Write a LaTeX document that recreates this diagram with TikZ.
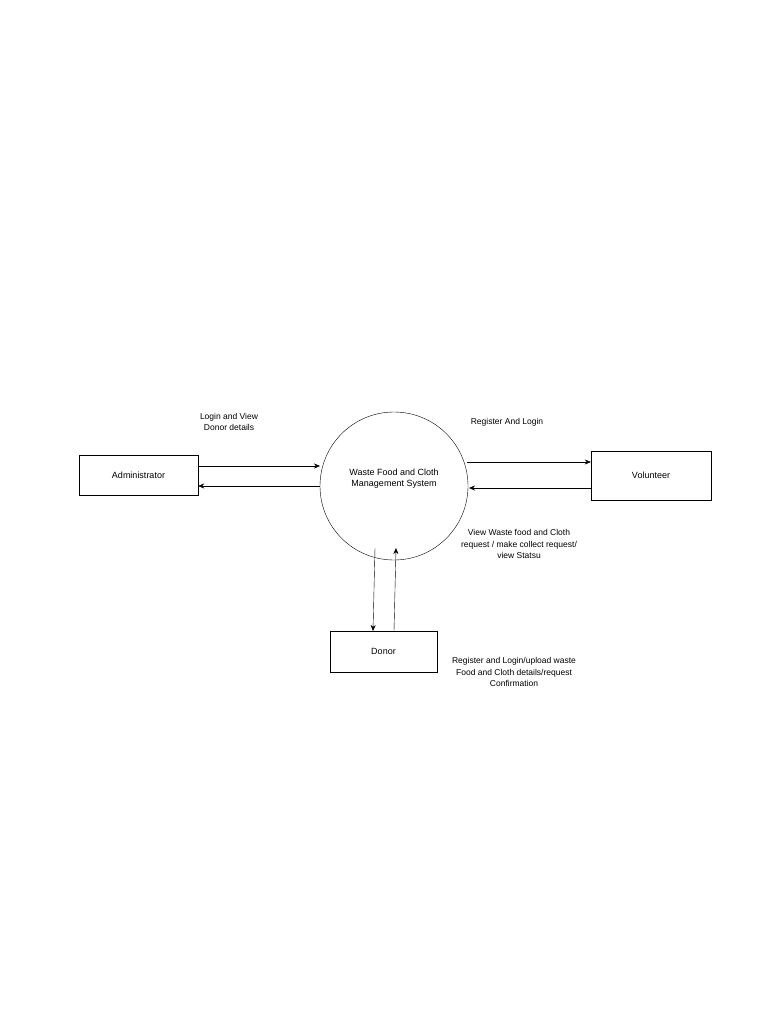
\documentclass[tikz,border=0pt]{standalone}
\usepackage{fontspec}
\setmainfont{Liberation Sans}
\usetikzlibrary{arrows.meta}
\begin{document}
\begin{tikzpicture}[x=1pt,y=-1pt,
  every node/.style={font=\fontsize{9}{11}\selectfont,align=center},
  box/.style={draw,thick,minimum width=0pt,inner sep=0pt},
  flow/.style={-{Stealth[length=6pt,width=5pt]},thin},
  lbl/.style={font=\fontsize{8.5}{11.5}\selectfont}]
\useasboundingbox (0,0) rectangle (768,1024);
\node[draw,thin,circle,minimum size=148pt,inner sep=0pt] (sys) at (394,486) {};
\node at (394,479) {Waste Food and Cloth\\Management System};
\node[draw,thin,minimum width=119pt,minimum height=40pt,inner sep=0pt] (adm) at (138.5,475) {Administrator};
\node[draw,thin,minimum width=120pt,minimum height=49pt,inner sep=0pt] (vol) at (651,475.5) {Volunteer};
\node[draw,thin,minimum width=107pt,minimum height=41pt,inner sep=0pt] (don) at (383.5,651.5) {Donor};
\coordinate (a1) at (320,466); \coordinate (a2) at (320,486);
\coordinate (v1) at (467,462); \coordinate (v2) at (469,488);
\coordinate (d1) at (375,548); \coordinate (d2) at (396,548);
\draw[flow] (adm.east |- a1) -- (a1);
\draw[flow] (a2) -- (adm.east |- a2);
\draw[flow] (v1) -- (vol.west |- v1);
\draw[flow] (vol.west |- v2) -- (v2);
\draw[flow] (d1) -- (373,631);
\draw[flow] (394,631) -- (d2);
\node[lbl] (l1) at (229,422) {Login and View\\Donor details};
\node[lbl] (l2) at (507,422) {Register And Login};
\node[lbl] (l3) at (519,544) {View Waste food and Cloth\\request / make collect request/\\view Statsu};
\node[lbl] (l4) at (514,672) {Register and Login/upload waste\\Food and Cloth details/request\\Confirmation};
\end{tikzpicture}
\end{document}
